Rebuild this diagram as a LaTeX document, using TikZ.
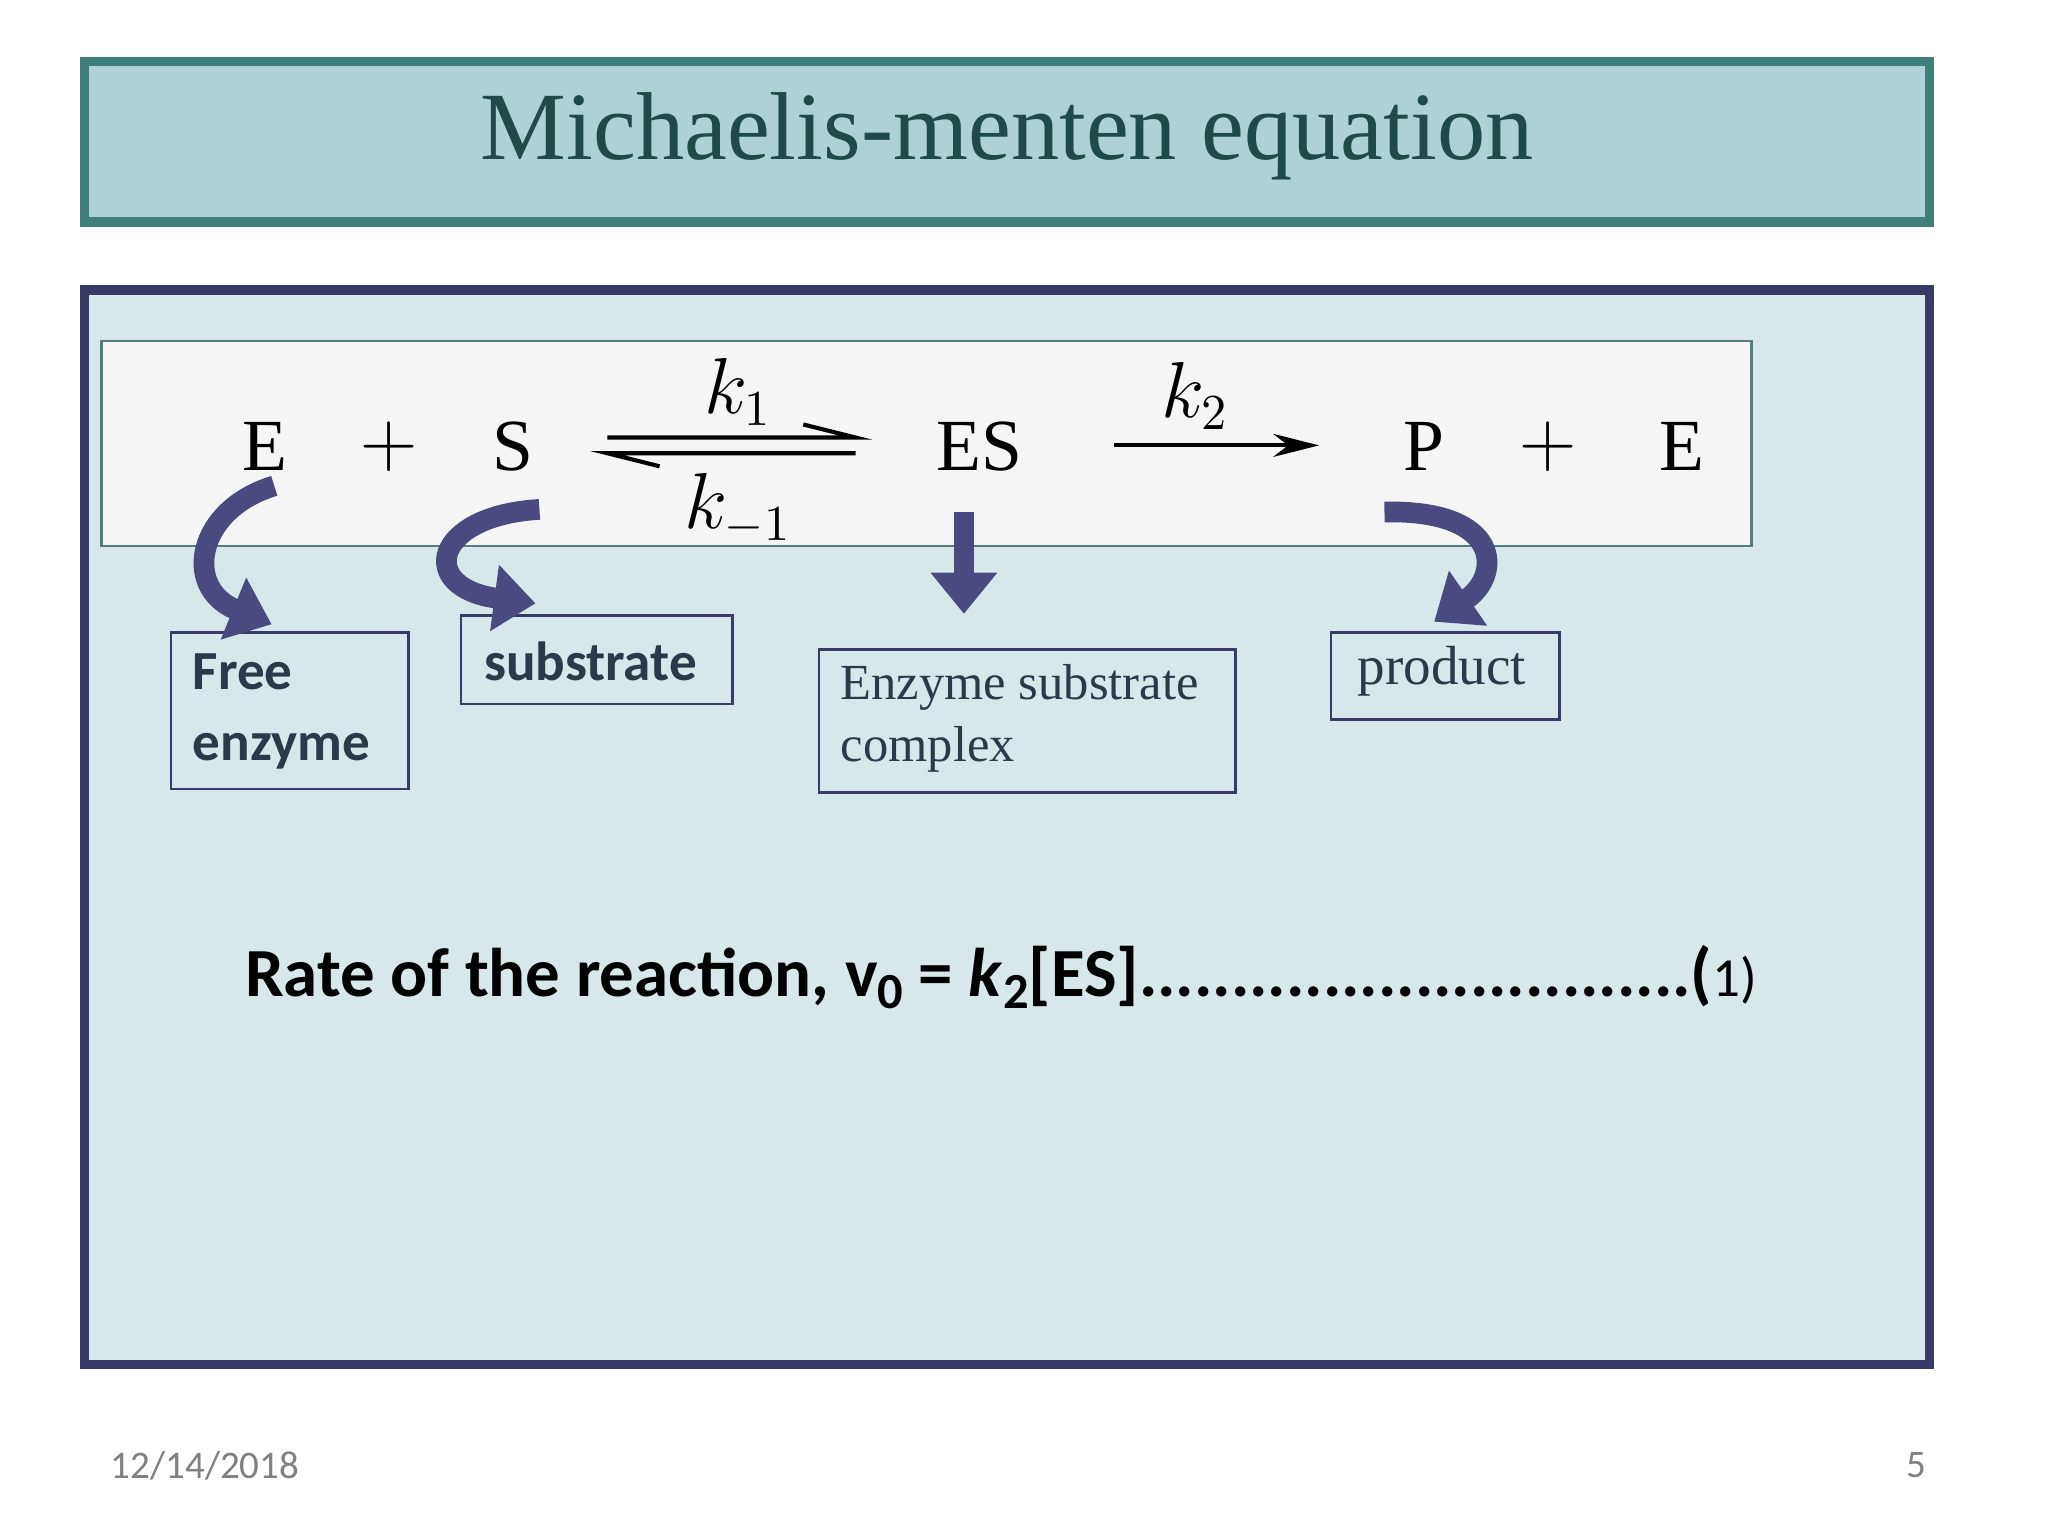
\documentclass[tikz,border=0pt]{standalone}
\usepackage{fontspec}
\setmainfont{Liberation Serif}
\newfontfamily\carl{Carlito}
\usetikzlibrary{arrows.meta}
\definecolor{titlefill}{HTML}{AED1D6}
\definecolor{titleline}{HTML}{3F7F7A}
\definecolor{titletext}{HTML}{1F4A48}
\definecolor{mainfill}{HTML}{D8E7EA}
\definecolor{mainline}{HTML}{3A3A68}
\definecolor{arrowcol}{HTML}{4A4A80}
\definecolor{labtext}{HTML}{2A3A48}
\newcommand{\sbs}[1]{\raisebox{-0.35ex}{\fontsize{11}{12}\selectfont #1}}
\tikzset{
  lab/.style={draw=mainline, line width=0.6pt, inner sep=0pt},
  fat/.style={draw=arrowcol, line width=4.5pt, -{Triangle[length=9pt,width=14pt]}},
  eq/.style={font=\fontsize{16}{20}\selectfont\rmfamily},
}
\begin{document}
\begin{tikzpicture}[x=0.01cm,y=-0.01cm]
\useasboundingbox (0,0) rectangle (1568,1176);
\fill[white] (0,0) rectangle (1568,1176);
% title
\draw[titleline, fill=titlefill, line width=2pt] (65,47) rectangle (1477,170);
\node[text=titletext, font=\fontsize{21}{26}\selectfont] (title) at (771,104) {Michaelis-menten equation};
% main
\draw[mainline, fill=mainfill, line width=2pt] (65,222) rectangle (1477,1045);
\draw[draw=titleline!70!gray, fill=gray!8, line width=0.6pt] (78,261) rectangle (1341,418);
% equation
\node[eq] (E1) at (203,342) {E};
\node[eq] (p1) at (298,342) {$+$};
\node[eq] (S) at (393,342) {S};
\node[eq] (ES) at (750,342) {ES};
\node[eq] (P) at (1090,342) {P};
\node[eq] (p2) at (1185,342) {$+$};
\node[eq] (E2) at (1288,342) {E};
\node[eq] (k1) at (565,300) {$k_1$};
\node[eq] (km1) at (565,390) {$k_{-1}$};
\node[eq] (k2) at (915,303) {$k_2$};
\coordinate (a1) at (465,335); \coordinate (a2) at (655,335);
\coordinate (b1) at (465,347); \coordinate (b2) at (655,347);
\draw[line width=0.9pt] (a1) -- (a2) -- ++(-40,-10);
\draw[line width=0.9pt] (b2) -- (b1) -- ++(40,10);
\coordinate (c1) at (853,341); \coordinate (c2) at (1010,341);
\draw[line width=0.9pt, -{Stealth[length=10pt,width=5pt]}] (c1) -- (c2);
% labels
\draw[lab] (131,484) rectangle (313,604);
\node[anchor=north west, align=left, text=labtext, font=\carl\bfseries\fontsize{12}{15.5}\selectfont, inner sep=0pt] (fe) at (147,500) {Free\\enzyme};
\draw[lab] (353,471) rectangle (561,539);
\node[text=labtext, font=\carl\bfseries\fontsize{12}{15}\selectfont] (sub) at (452,506) {substrate};
\draw[lab] (627,497) rectangle (946,607);
\node[anchor=north west, align=left, text=labtext, font=\fontsize{11}{13.5}\selectfont, inner sep=0pt] (esc) at (643,508) {Enzyme substrate\\ complex};
\draw[lab] (1019,484) rectangle (1194,551);
\node[text=labtext, font=\fontsize{12}{15}\selectfont] (prod) at (1104,514) {product};
% fat arrows
\draw[fat] (210,372) .. controls (150,390) and (140,450) .. (208,478);
\draw[fat] (413,390) .. controls (330,395) and (320,450) .. (410,462);
\draw[fat] (738,392) -- (738,470);
\draw[fat] (1060,392) .. controls (1150,390) and (1150,440) .. (1098,476);
% rate
\node[anchor=west, inner sep=0pt, font=\carl\bfseries\fontsize{15}{18}\selectfont] (rate) at (187,748) {Rate of the reaction, v\sbs{0} = \textit{k}\sbs{2}[ES]..............................({\mdseries\fontsize{12}{14}\selectfont 1)}};
% footer
\node[text=gray, font=\carl\fontsize{8.5}{10}\selectfont] (date) at (157,1122) {12/14/2018};
\node[text=gray, font=\carl\fontsize{8.5}{10}\selectfont] (pg) at (1467,1122) {5};
\end{tikzpicture}
\end{document}
